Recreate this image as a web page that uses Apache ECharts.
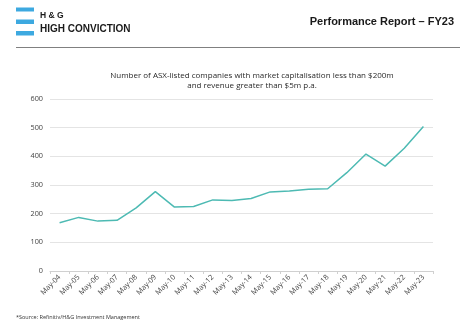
<!DOCTYPE html>
<html><head><meta charset="utf-8">
<script src="https://cdn.jsdelivr.net/npm/echarts@6/dist/echarts.min.js"></script>
<style>html,body{margin:0;padding:0;background:#fff}#c{width:474px;height:331px}</style>
</head><body><div id="c"></div>
<script>
const categories = ['May-04','May-05','May-06','May-07','May-08','May-09','May-10','May-11','May-12','May-13','May-14','May-15','May-16','May-17','May-18','May-19','May-20','May-21','May-22','May-23'];
const companies = [168,187,174,177,220,277,223,225,248,246,253,276,279,285,287,343,408,366,428,504];
const yTicks = [0,100,200,300,400,500,600];

const chart = echarts.init(document.getElementById('c'), null, {renderer:'canvas'});
const font = '"Open Sans", "DejaVu Sans", sans-serif';
const bfont = 'Liberation Sans, Arial, sans-serif';
chart.setOption({
  animation:false,
  title:{
    text:'Number of ASX-listed companies with market capitalisation less than $200m\nand revenue greater than $5m p.a.',
    left:247, top:65, textAlign:'center',
    textStyle:{fontSize:8, fontWeight:'normal', color:'#2a2a2a', fontFamily:font, lineHeight:10.5}
  },
  grid:{left:50, right:41, top:99, bottom:60, containLabel:false},
  xAxis:{
    type:'category', data:categories, boundaryGap:true,
    axisLine:{lineStyle:{color:'#d0d0d0'}},
    axisTick:{show:true, alignWithLabel:false, lineStyle:{color:'#d0d0d0'}, length:3},
    axisLabel:{rotate:45, fontSize:7.3, color:'#444', fontFamily:font, margin:5, interval:0}
  },
  yAxis:{
    type:'value', min:yTicks[0], max:yTicks[yTicks.length-1], interval:100,
    axisLine:{show:false}, axisTick:{show:false},
    splitLine:{lineStyle:{color:'#e4e4e4'}},
    axisLabel:{fontSize:7.3, color:'#444', fontFamily:font, margin:7}
  },
  series:[{
    type:'line', data:companies, symbol:'none',
    lineStyle:{color:'#4dbab3', width:1.5}
  }],
  graphic:[
    {type:'rect', shape:{x:16,y:7.5,width:18,height:4}, style:{fill:'#3da9e0'}},
    {type:'rect', shape:{x:16,y:19.5,width:18,height:4.5}, style:{fill:'#3da9e0'}},
    {type:'rect', shape:{x:16,y:31,width:18,height:4.5}, style:{fill:'#3da9e0'}},
    {type:'text', left:40, top:11, style:{text:'H & G', font:'bold 8.5px '+bfont, fill:'#1a1a1a'}},
    {type:'text', left:40, top:24, style:{text:'HIGH CONVICTION', font:'bold 10px '+bfont, fill:'#1a1a1a'}},
    {type:'text', right:20, top:16.5, style:{text:'Performance Report \u2013 FY23', font:'bold 11px '+bfont, fill:'#1a1a1a'}},
    {type:'line', shape:{x1:16,y1:47.5,x2:460,y2:47.5}, style:{stroke:'#808080', lineWidth:1.2}},
    {type:'text', left:16, top:314, style:{text:'*Source: Refinitiv/H&G Investment Management', font:'5.5px '+font, fill:'#333'}}
  ]
});
</script></body></html>
